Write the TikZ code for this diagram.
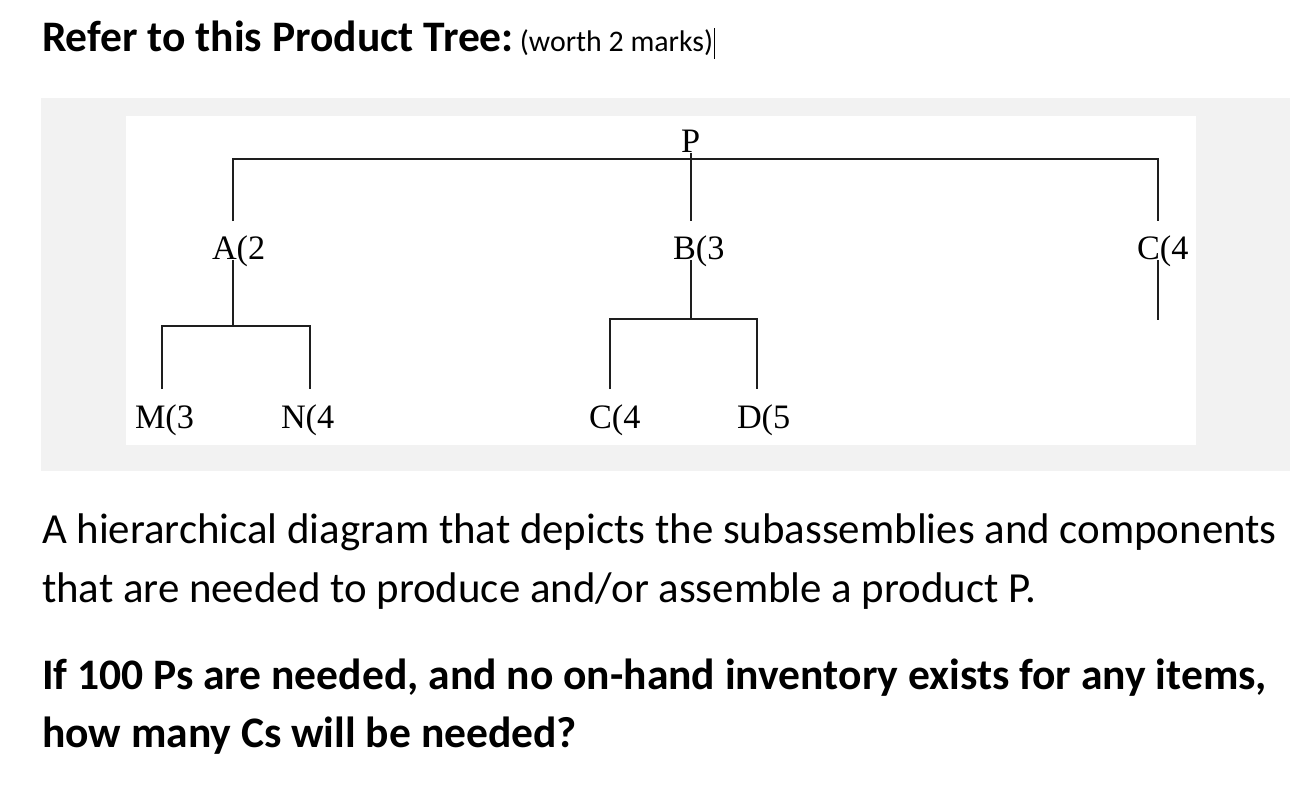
\documentclass[tikz,border=0pt]{standalone}
\usepackage{fontspec}
\setmainfont{Carlito}
\newfontfamily\treefont{Liberation Serif}
\usepackage{xcolor}
\usetikzlibrary{positioning}

\definecolor{panelgray}{HTML}{F2F2F2}
\definecolor{inkline}{HTML}{1E1E1E}

\begin{document}
\begin{tikzpicture}[
  x=0.02cm, y=-0.02cm,
  itemlabel/.style={
    inner sep=0pt, outer sep=0pt, anchor=base west,
    font=\treefont\fontsize{19.5}{19.5}\selectfont
  },
  bodytext/.style={
    inner sep=0pt, outer sep=0pt, anchor=base west,
    font=\fontsize{24.4}{24.4}\selectfont
  },
  boldtext/.style={
    bodytext, font=\bfseries\fontsize{24.8}{24.8}\selectfont
  },
  treeline/.style={draw=inkline, line width=1.4pt},
  labelgap/.style={shorten <=0.3cm, shorten >=0.3cm},
]
\useasboundingbox (0,0) rectangle (1304,790);

% ============================================================
% HEADING
% ============================================================
\node[boldtext] (title) at (42,52) {Refer to this Product Tree:};
\node[bodytext, font=\fontsize{17}{17}\selectfont, base right=0.12cm of title]
  (marks) {(worth 2 marks)};
\draw[line width=0.6pt] ([xshift=0.03cm,yshift=-0.05cm]marks.south east)
  -- ([xshift=0.03cm,yshift=0.05cm]marks.north east);

% ============================================================
% PANEL (grey frame, white picture area)
% ============================================================
\fill[panelgray] (41,98) rectangle (1290,471);
\fill[white] (126,116) rectangle (1196,445);

% ============================================================
% TREE ITEMS
% ============================================================
\node[itemlabel] (prodp) at (681,153) {P};
\node[itemlabel] (suba) at (212,260) {A(2};
\node[itemlabel] (subb) at (673,260) {B(3};
\node[itemlabel] (subc) at (1137,260) {C(4};
\node[itemlabel] (compm) at (135,428) {M(3};
\node[itemlabel] (compn) at (281,428) {N(4};
\node[itemlabel] (compc) at (589,428) {C(4};
\node[itemlabel] (compd) at (737,428) {D(5};

% junctions of the brackets
\coordinate (topleft) at (233,159);
\coordinate (topright) at (1158,159);
\coordinate (bstem) at (691,159);
\coordinate (mleg) at (162,326);
\coordinate (ajoin) at (233,326);
\coordinate (nleg) at (310,326);
\coordinate (cleg) at (610,319);
\coordinate (bjoin) at (691,319);
\coordinate (dleg) at (757,319);
\coordinate (ctail) at (1158,320);

% ============================================================
% CONNECTORS
% ============================================================
% P -> A, B, C
\draw[treeline, labelgap]
  (suba.north -| topleft) -- (topleft) -- (topright) -- (subc.north -| topright);
\draw[treeline, shorten >=0.3cm] (prodp.south -| bstem) -- (subb.north -| bstem);

% A -> M, N
\draw[treeline] (suba.base -| ajoin) -- (ajoin);
\draw[treeline, labelgap]
  (compm.north -| mleg) -- (mleg) -- (nleg) -- (compn.north -| nleg);

% B -> C, D
\draw[treeline] (subb.base -| bjoin) -- (bjoin);
\draw[treeline, labelgap]
  (compc.north -| cleg) -- (cleg) -- (dleg) -- (compd.north -| dleg);

% C (no children drawn)
\draw[treeline] (subc.base -| ctail) -- (ctail);

% ============================================================
% TEXT BELOW
% ============================================================
\node[bodytext] (desc1) at (42,543)
  {A hierarchical diagram that depicts the subassemblies and components};
\node[bodytext] (desc2) at (42,602)
  {that are needed to produce and/or assemble a product P.};
\node[boldtext] (ask1) at (42,689)
  {If 100 Ps are needed, and no on-hand inventory exists for any items,};
\node[boldtext] (ask2) at (42,747)
  {how many Cs will be needed?};

\end{tikzpicture}
\end{document}
